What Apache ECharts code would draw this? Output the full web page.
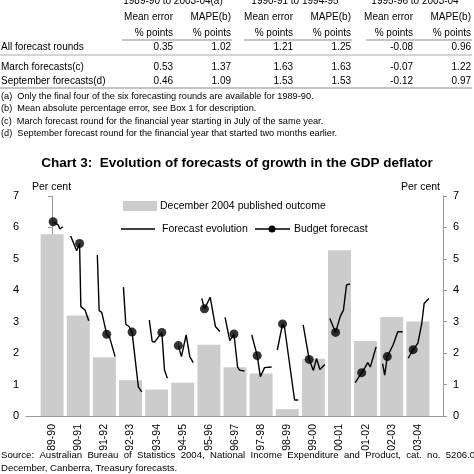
<!DOCTYPE html>
<html>
<head>
<meta charset="utf-8">
<script src="https://cdn.jsdelivr.net/npm/echarts@6/dist/echarts.min.js"></script>
<style>html,body{margin:0;padding:0;background:#fff}#chart{width:474px;height:474px}</style>
</head>
<body>
<div id="chart"></div>
<script>
var years = ['89-90','90-91','91-92','92-93','93-94','94-95','95-96','96-97','97-98','98-99','99-00','00-01','01-02','02-03','03-04'];
// December 2004 published outcome
var outcome = [5.78,3.2,1.87,1.14,0.84,1.06,2.27,1.55,1.35,0.22,1.82,5.27,2.39,3.15,3.01];
// budget forecast: timing within year and value
var budgetX = [0.04,0.05,0.09,0.06,0.2,-0.17,-0.17,-0.04,-0.15,-0.18,-0.16,-0.15,-0.15,-0.17,-0.18];
var budget = [6.18,5.49,2.6,2.67,2.66,2.24,3.41,2.61,1.92,2.93,1.8,2.66,1.38,1.89,2.11];
// forecast evolution for each year: timing offsets and values
var evoX = [
  [0.04,0.23,0.3,0.41],
  [-0.29,-0.06,0.05,0.1,0.26,0.4],
  [-0.27,-0.2,-0.1,0.09,0.2,0.41],
  [-0.27,-0.18,-0.05,0.06,0.3,0.43],
  [-0.28,-0.17,-0.08,0.2,0.3,0.35,0.41],
  [-0.17,-0.05,0.13,0.27,0.4],
  [-0.27,-0.17,0.05,0.25,0.42],
  [-0.38,-0.2,-0.04,0.1,0.18,0.36],
  [-0.36,-0.15,-0.03,0.13,0.4],
  [-0.38,-0.18,-0.1,0.28,0.42],
  [-0.39,-0.16,0,0.12,0.25,0.44],
  [-0.37,-0.15,0.03,0.15,0.27,0.4],
  [-0.4,-0.15,-0.02,0.08,0.18,0.4],
  [-0.35,-0.27,-0.17,0.05,0.23,0.42],
  [-0.37,-0.18,0,0.15,0.24,0.42]
];
var evo = [
  [6.18,6.08,5.95,6.02],
  [5.73,5.26,5.49,3.48,3.37,3.03],
  [5.12,3.35,3.3,2.6,2.5,1.89],
  [4.1,2.92,2.84,2.67,0.93,0.77],
  [3.05,2.37,2.35,2.66,1.47,1.48,1.2],
  [2.24,1.89,2.58,1.89,1.7],
  [3.74,3.41,3.78,2.85,2.69],
  [3.14,2.4,2.61,1.55,1.46,1.43],
  [2.58,1.92,1.25,1.54,1.56],
  [2.1,2.93,2.8,0.51,0.51],
  [2.9,1.8,1.45,1.83,1.48,1.64],
  [3.1,2.66,3.17,3.37,4.17,4.2],
  [1.06,1.38,1.55,1.7,1.56,2.2],
  [1.67,1.3,1.89,2.26,2.68,2.68],
  [1.84,2.11,2.32,2.95,3.58,3.74]
];
var yTicks = [0,1,2,3,4,5,6,7];

var barData = outcome.map(function(v,i){ return [i,v]; });
var dotData = budget.map(function(v,i){ return [i+budgetX[i],v]; });
var evoData = [];
for(var i=0;i<evo.length;i++){
  for(var k=0;k<evo[i].length;k++) evoData.push([i+evoX[i][k],evo[i][k]]);
  evoData.push([i+0.5,'-']);
}

var F = 'Liberation Sans, Arial, sans-serif';
function txt(x,y,s,align,size,weight){
  return {type:'text',x:x,y:y,style:{text:s,fill:'#000',font:(weight||'normal')+' '+(size||10)+'px '+F,textAlign:align||'left',textVerticalAlign:'middle'}};
}
function hline(x1,x2,y,c){
  return {type:'line',shape:{x1:x1,y1:y,x2:x2,y2:y},style:{stroke:c||'#888',lineWidth:1}};
}
var g = [];
// table
g.push(txt(173,1,'1989-90 to 2003-04(a)','center'));
g.push(txt(295,1,'1990-91 to 1994-95','center'));
g.push(txt(415,1,'1995-96 to 2003-04','center'));
var cols = [173,231,293,351,413,471];
var rows = [
  ['All forecast rounds',47,['0.35','1.02','1.21','1.25','-0.08','0.96']],
  ['March forecasts(c)',67,['0.53','1.37','1.63','1.63','-0.07','1.22']],
  ['September forecasts(d)',81,['0.46','1.09','1.53','1.53','-0.12','0.97']]
];
for(var c=0;c<6;c++){
  g.push(txt(cols[c],17,c%2?'MAPE(b)':'Mean error','right'));
  g.push(txt(cols[c],33,'% points','right'));
}
g.push(hline(122,232,40),hline(244,352,40),hline(366,472,40));
for(var r=0;r<rows.length;r++){
  g.push(txt(1,rows[r][1],rows[r][0]));
  for(var c=0;c<6;c++) g.push(txt(cols[c],rows[r][1],rows[r][2][c],'right'));
}
g.push(hline(0,472,55,'#aaa'),hline(0,472,88));
g.push(txt(1,96,'(a)  Only the final four of the six forecasting rounds are available for 1989-90.','left',9.2));
g.push(txt(1,108,'(b)  Mean absolute percentage error, see Box 1 for description.','left',9.2));
g.push(txt(1,121,'(c)  March forecast round for the financial year starting in July of the same year.','left',9.2));
g.push(txt(1,133,'(d)  September forecast round for the financial year that started two months earlier.','left',9.2));
g.push(txt(237,163,'Chart 3:  Evolution of forecasts of growth in the GDP deflator','center',13.5,'bold'));
g.push(txt(32,187,'Per cent','left',10.5));
g.push(txt(440,187,'Per cent','right',10.5));
// legend
g.push({type:'rect',shape:{x:123,y:201,width:34,height:10},style:{fill:'#cccccc'}});
g.push(txt(160,206,'December 2004 published outcome','left',10.5));
g.push({type:'line',shape:{x1:121,y1:229,x2:155,y2:229},style:{stroke:'#000',lineWidth:1.3}});
g.push(txt(162,229,'Forecast evolution','left',10.5));
g.push({type:'line',shape:{x1:255,y1:229,x2:290,y2:229},style:{stroke:'#000',lineWidth:1.3}});
g.push({type:'circle',shape:{cx:272,cy:229,r:3.5},style:{fill:'#000'}});
g.push(txt(294,229,'Budget forecast','left',10.5));
// source
g.push(txt(1,455,'Source:  Australian  Bureau  of  Statistics  2004,  National  Income  Expenditure  and  Product,  cat.  no.  5206.0,','left',9.6));
g.push(txt(1,468,'December, Canberra, Treasury forecasts.','left',9.6));

var yAxisBase = {
  type:'value',min:0,max:7,interval:1,
  axisLine:{show:true,lineStyle:{color:'#999'}},
  axisTick:{show:true,length:4,lineStyle:{color:'#999'}},
  splitLine:{show:false},
  axisLabel:{color:'#000',fontFamily:F,fontSize:11,margin:10,formatter:function(v){return yTicks.indexOf(v)>=0?String(v):'';}}
};

var chart = echarts.init(document.getElementById('chart'));
chart.setOption({
  animation:false,
  backgroundColor:'#fff',
  grid:{left:26,right:30,top:196,bottom:58},
  xAxis:{
    type:'value',min:-1,max:15,interval:1,
    axisLine:{show:true,onZero:false,lineStyle:{color:'#999'}},
    axisTick:{show:false},splitLine:{show:false},
    axisLabel:{color:'#000',fontFamily:F,fontSize:10.5,rotate:90,margin:8,
      formatter:function(v){return years[v]||'';}}
  },
  yAxis:[
    echarts.util.extend({position:'left',offset:-3},yAxisBase),
    echarts.util.extend({position:'right',offset:-1},yAxisBase)
  ],
  series:[
    {type:'bar',data:barData,barWidth:23,itemStyle:{color:'#cccccc'},silent:true},
    {type:'line',data:evoData,showSymbol:false,connectNulls:false,lineStyle:{color:'#000',width:1.4},z:3},
    {type:'scatter',data:dotData,symbolSize:9,itemStyle:{color:'#000'},z:4}
  ],
  graphic:g
});
</script>
</body>
</html>
